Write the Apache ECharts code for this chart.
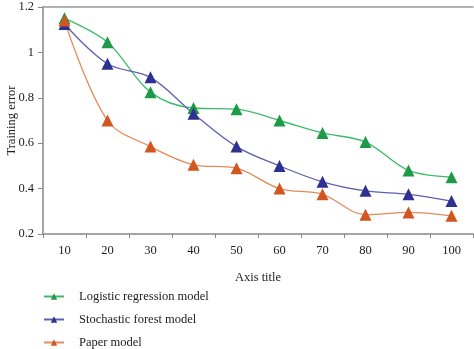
<!DOCTYPE html>
<html><head><meta charset="utf-8">
<script src="https://cdn.jsdelivr.net/npm/echarts@6/dist/echarts.min.js"></script>
<style>html,body{margin:0;padding:0;background:#fff}#c{width:474px;height:349px}</style>
</head><body><div id="c"></div>
<script>
var categories = ['10','20','30','40','50','60','70','80','90','100'];
var logistic = [1.15,1.045,0.825,0.755,0.75,0.70,0.645,0.605,0.48,0.45];
var stochastic = [1.125,0.95,0.89,0.73,0.585,0.50,0.43,0.39,0.375,0.345];
var paper = [1.14,0.70,0.585,0.505,0.49,0.40,0.375,0.285,0.295,0.28];
var names = ['Logistic regression model','Stochastic forest model','Paper model'];
var font = 'Liberation Serif';
var chart = echarts.init(document.getElementById('c'));
function ser(name, data, line, mark){
  return {name:name,type:'line',data:data,smooth:0.35,symbol:'triangle',symbolSize:12,
    lineStyle:{color:line,width:1.3},itemStyle:{color:mark},z:3};
}
chart.setOption({
  animation:false,
  textStyle:{fontFamily:font},
  grid:{left:43,right:1,top:7,bottom:115,containLabel:false,outerBoundsMode:'none'},
  legend:{orient:'vertical',left:43,top:290,padding:0,itemGap:10,itemWidth:20,itemHeight:8,
    textStyle:{fontFamily:font,fontSize:12.5,color:'#222',padding:[0,0,0,10]},data:names},
  xAxis:[{type:'category',data:categories,boundaryGap:true,name:'Axis title',nameLocation:'middle',nameGap:37,nameMoveOverlap:false,
    nameTextStyle:{fontFamily:font,fontSize:12.5,color:'#222'},
    axisLine:{lineStyle:{color:'#888',width:1.5}},axisTick:{show:true,length:4,lineStyle:{color:'#888'}},
    axisLabel:{fontFamily:font,fontSize:12.5,color:'#222',margin:10}},
   {type:'category',position:'top',data:categories,axisLine:{show:true,lineStyle:{color:'#999',width:1.5}},axisTick:{show:false},axisLabel:{show:false}}],
  yAxis:{type:'value',min:0.2,max:1.2,interval:0.2,name:'Training error',nameLocation:'middle',nameGap:25,nameMoveOverlap:false,
    nameTextStyle:{fontFamily:font,fontSize:12.5,color:'#222'},
    axisLine:{show:true,lineStyle:{color:'#888',width:1.5}},axisTick:{show:true,length:5,lineStyle:{color:'#888'}},
    splitLine:{show:false},
    axisLabel:{fontFamily:font,fontSize:12.5,color:'#222',margin:9,formatter:function(v){return String(Math.round(v*10)/10);}}},
  series:[ser(names[0],logistic,'#3dbb6a','#1c9a45'),ser(names[1],stochastic,'#5d60b0','#2e3192'),ser(names[2],paper,'#e58a5c','#d2561f')]
});
</script></body></html>
